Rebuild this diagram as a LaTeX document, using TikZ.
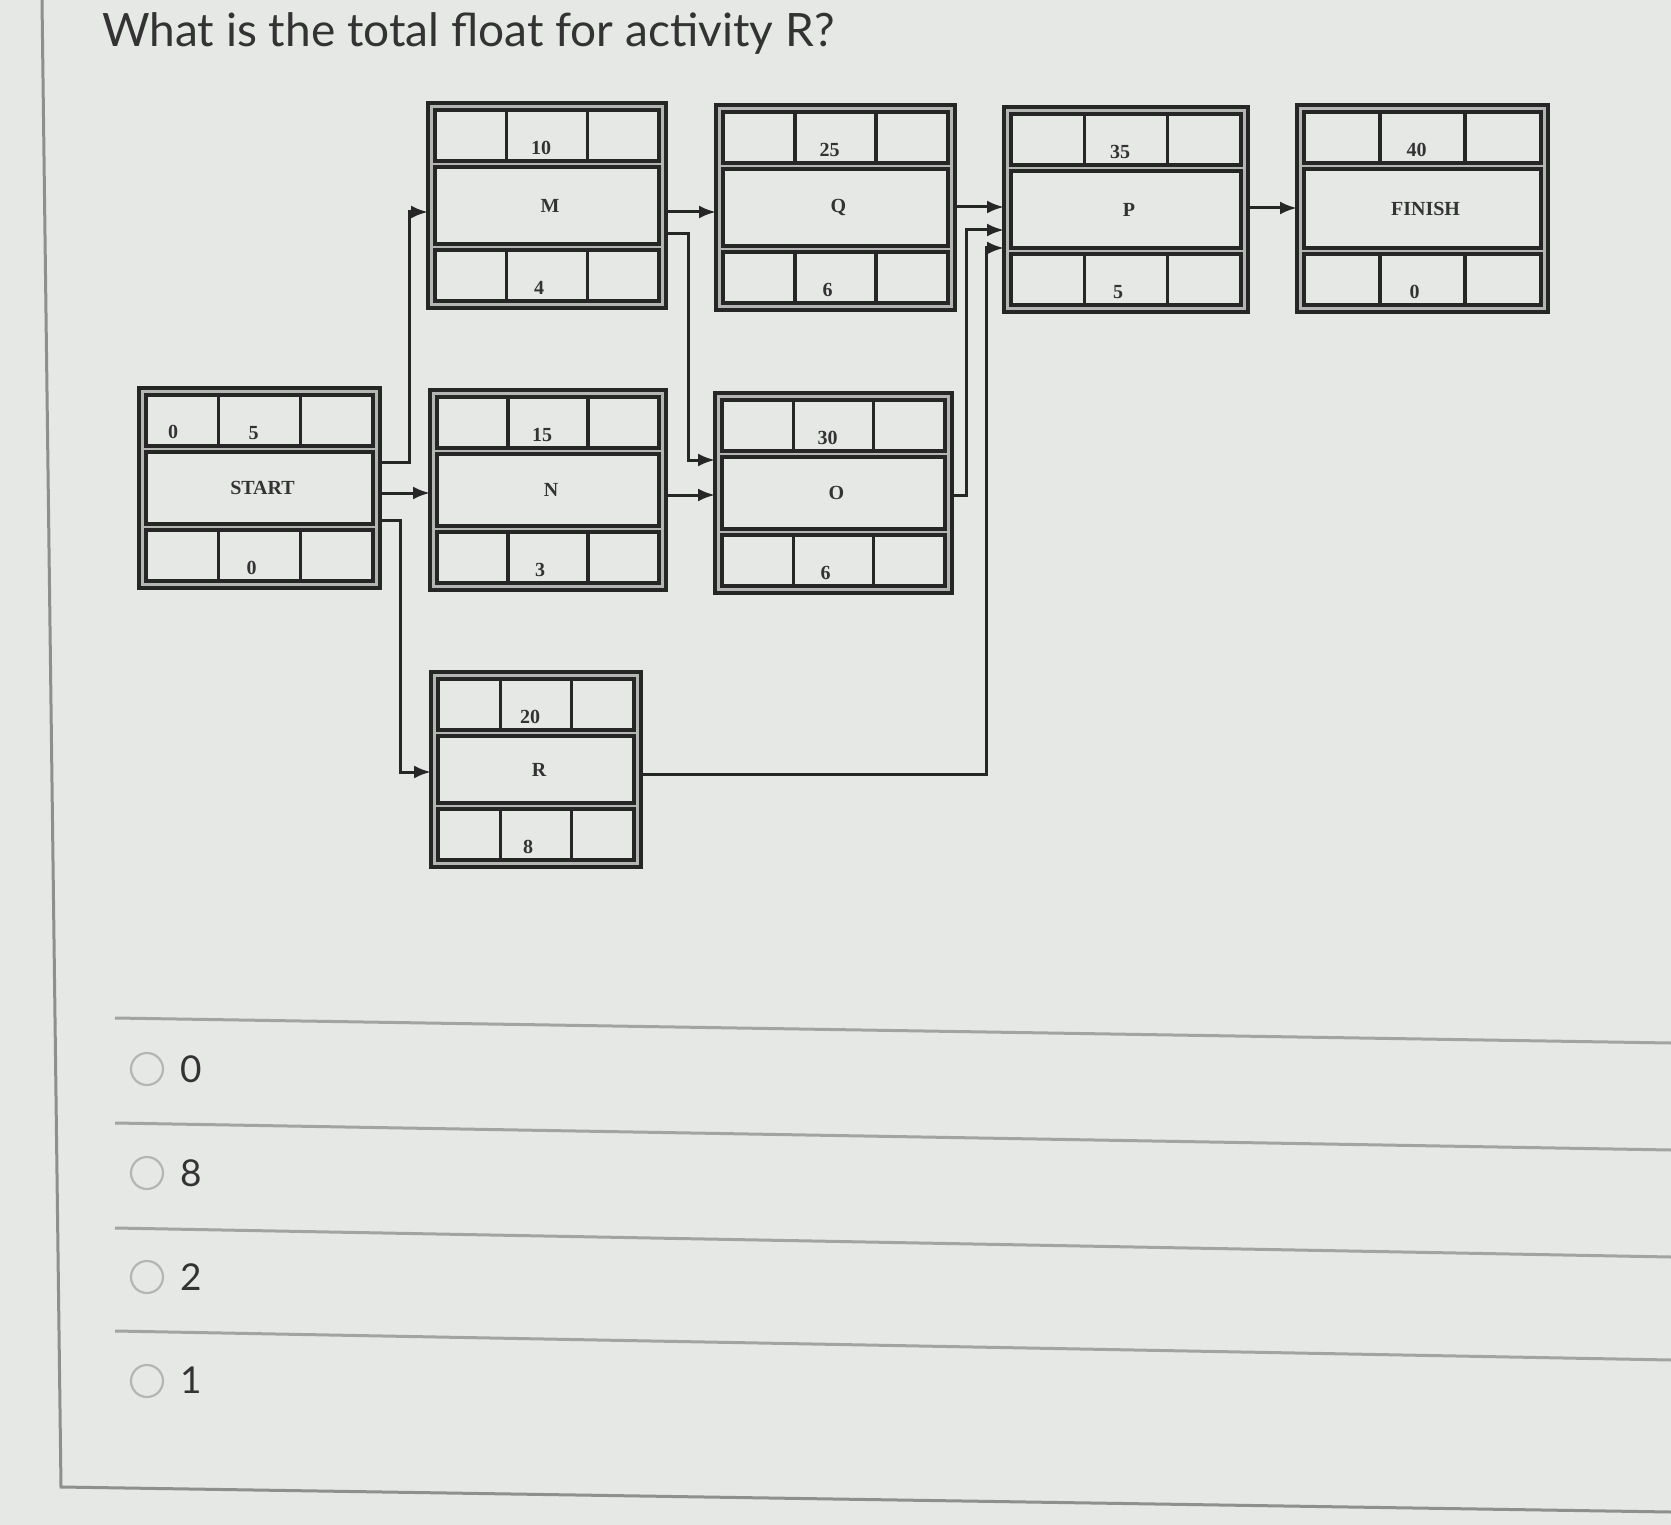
\documentclass[tikz,border=0pt]{standalone}
\usepackage{fontspec}
\setmainfont{Liberation Serif}
\newfontfamily\latofont{Lato}
\usetikzlibrary{arrows.meta}
\definecolor{bg}{HTML}{E6E8E6}
\definecolor{ink}{HTML}{262626}
\definecolor{band}{HTML}{B4B6B4}
\definecolor{txt}{HTML}{333333}
\definecolor{rulecol}{HTML}{A2A4A2}
\definecolor{bordercol}{HTML}{8E908E}
\definecolor{radiocol}{HTML}{B4B6B4}
\tikzset{
  outerbox/.style={draw=ink, line width=3.8pt, fill=band, rectangle, inner sep=0pt, outer sep=0pt},
  cellbox/.style={draw=ink, line width=3.4pt, fill=bg},
  divline/.style={draw=ink, line width=3.4pt},
  lbl/.style={font=\fontsize{20}{22}\selectfont\bfseries, text=txt, inner sep=0pt},
  conn/.style={draw=ink, line width=3pt, -{Latex[length=17pt,width=13pt]}},
  sepline/.style={draw=rulecol, line width=3pt},
  panelborder/.style={draw=bordercol, line width=3pt},
  ans/.style={font=\latofont\fontsize{37}{40}\selectfont, text=txt, inner sep=0pt, anchor=base west},
  radio/.style={circle, draw=radiocol, line width=2.2pt, minimum size=32pt, inner sep=0pt},
}
\newcommand\actbox[8]{%
  \pgfmathsetmacro\bxL{#2+7}\pgfmathsetmacro\bxR{#2+#4-7}%
  \pgfmathsetmacro\byA{#3+7}\pgfmathsetmacro\byB{#3+58}%
  \pgfmathsetmacro\byC{#3+64}\pgfmathsetmacro\byD{#3+#5-64}%
  \pgfmathsetmacro\byE{#3+#5-58}\pgfmathsetmacro\byF{#3+#5-7}%
  \pgfmathsetmacro\bdA{\bxL+0.32*(\bxR-\bxL)}\pgfmathsetmacro\bdB{\bxL+0.68*(\bxR-\bxL)}%
  \node[outerbox, minimum width=#4pt, minimum height=#5pt, anchor=north west] (#1) at (#2,#3) {};
  \draw[cellbox] (\bxL,\byA) rectangle (\bxR,\byB);
  \draw[cellbox] (\bxL,\byC) rectangle (\bxR,\byD);
  \draw[cellbox] (\bxL,\byE) rectangle (\bxR,\byF);
  \draw[divline] (\bdA,\byA) -- (\bdA,\byB) (\bdB,\byA) -- (\bdB,\byB)
                 (\bdA,\byE) -- (\bdA,\byF) (\bdB,\byE) -- (\bdB,\byF);
  \node[lbl] (#1-t) at ({(\bdA+\bdB)/2-6},{\byB-13}) {#6};
  \node[lbl] (#1-m) at ({(\bxL+\bxR)/2+3},{(\byC+\byD)/2}) {#7};
  \node[lbl] (#1-b) at ({(\bdA+\bdB)/2-8},{\byF-13}) {#8};
}
\begin{document}
\begin{tikzpicture}[x=1pt,y=-1pt]
\useasboundingbox (0,0) rectangle (1671,1525);
\fill[bg] (0,0) rectangle (1671,1525);
% panel
\draw[panelborder] (42,0) -- (61,1487) -- (1671,1512);
% title
\node[font=\latofont\fontsize{46}{50}\selectfont, text=txt, anchor=base west, inner sep=0pt] (title) at (102,47) {What is the total float for activity R?};
% activity boxes
\actbox{M}{428}{103}{238}{205}{10}{M}{4}
\actbox{Q}{716}{105}{239}{205}{25}{Q}{6}
\actbox{P}{1004}{107}{244}{205}{35}{P}{5}
\actbox{F}{1297}{105}{251}{207}{40}{FINISH}{0}
\actbox{S}{139}{388}{241}{200}{5}{START}{0}
\actbox{N}{430}{390}{236}{200}{15}{N}{3}
\actbox{O}{715}{393}{237}{200}{30}{O}{6}
\actbox{R}{431}{672}{210}{195}{20}{R}{8}
\node[lbl] (S-tl) at (173,432) {0};
% connectors
\draw[conn] (S.east |- 0,462) -| (409,212) -- (M.west |- 0,212);
\draw[conn] (S.east |- 0,493) -- (N.west |- 0,493);
\draw[conn] (S.east |- 0,520) -| (400,772) -- (R.west |- 0,772);
\draw[conn] (M.east |- 0,212) -- (Q.west |- 0,212);
\draw[conn] (M.east |- 0,234) -| (688,460) -- (O.west |- 0,460);
\draw[conn] (N.east |- 0,495) -- (O.west |- 0,495);
\draw[conn] (Q.east |- 0,207) -- (P.west |- 0,207);
\draw[conn] (O.east |- 0,495) -| (966,230) -- (P.west |- 0,230);
\draw[conn] (R.east |- 0,774) -| (986,248) -- (P.west |- 0,248);
\draw[conn] (P.east |- 0,208) -- (F.west |- 0,208);
% answer separators
\draw[sepline] (115,1018) -- (1671,1043);
\draw[sepline] (115,1123) -- (1671,1150);
\draw[sepline] (115,1228) -- (1671,1257);
\draw[sepline] (115,1331) -- (1671,1360);
% answers
\node[radio] (rad1) at (147,1069) {};
\node[ans] (ans1) at (180,1082) {0};
\node[radio] (rad2) at (147,1173) {};
\node[ans] (ans2) at (180,1186) {8};
\node[radio] (rad3) at (147,1277) {};
\node[ans] (ans3) at (180,1290) {2};
\node[radio] (rad4) at (147,1381) {};
\node[ans] (ans4) at (180,1393) {1};
\end{tikzpicture}
\end{document}
